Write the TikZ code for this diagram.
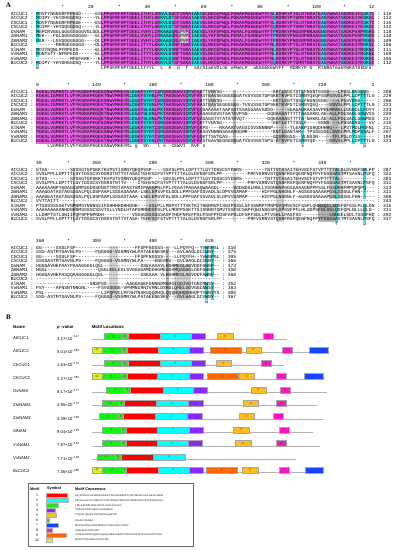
\documentclass[tikz,border=0pt]{standalone}
\usepackage{fontspec}
\setmainfont{Liberation Serif}
\setsansfont{Liberation Sans}
\setmonofont{Liberation Mono}
\definecolor{amg}{RGB}{232,96,232}
\definecolor{acy}{RGB}{40,225,225}
\definecolor{agr}{RGB}{180,180,180}
\definecolor{agl}{RGB}{212,212,212}
\definecolor{mred}{RGB}{255,0,0}
\definecolor{mcyan}{RGB}{0,255,255}
\definecolor{mgreen}{RGB}{20,240,20}
\definecolor{mpurple}{RGB}{140,40,255}
\definecolor{mgold}{RGB}{255,190,30}
\definecolor{mgreenb}{RGB}{60,215,60}
\definecolor{mblue}{RGB}{20,70,255}
\definecolor{mpink}{RGB}{255,20,200}
\definecolor{morange}{RGB}{255,102,0}
\definecolor{mlime}{RGB}{215,240,30}
\newcommand\seqVA{LPPGFRFHPTDEELITHYLSRKVLDGCFSSRAIAEVDLNKCEPWQLPGRAKMGEKEWYFFSLRDRKYPTGLRTNRATEAGYWKATGKDREIFSSKTC}
\newcommand\seqVB{LPPGFRFHPTDEELITHYLHKKVLDTSFSAKAIAEVDLNKCEPWELPGKAKMGEKEWYFFCQRDRKYPTGMRTNRATEAGYWKATGKDKEIYKGKGC}
\newcommand\seqVC{LPPGFRFHPTDEELVVHYLCRKAAGQRLPVPIIAEVDLYKFDPWDLPERALFGAREWYFFTPRDRKYPNGSRPNRAAGNGYWKATGADKPVAPRGRG}
\newcommand\seqVD{LPPGFRFHPTDEELITYYLKKKVLDSNFTGRAIAEVDLNKCEPWDLPEKAKMGEKEWYFFNLRDRKYPTGLRTNRATEAGYWKATGKDKEIYRGKNC}
\newcommand\seqCA{RGKSLVGMKKTLVFYKGRAPKGEKSNWVMHEYRLEGKFSYHYISRSSKDEWVISRVFQ}
\newcommand\seqCB{KGKALIGMKKTLVFYKGRAPKGEKTNWVMHEYRLDGKFSYHNLPKTAKDEWVVCRVFH}
\newcommand\seqCC{SGKALVGMKKTLVFYRGRAPKGQKTNWVMHEYRLEGAYSLHNLPKTAKNEWVICRVFQ}
\newcommand\hlrect[6]{\fill[#6] ({36+(#2-1)*2.82},{11.75+78*(#1)+4.5*(#4-1)}) rectangle ({36+(#3)*2.82},{16.25+78*(#1)+4.5*(#5-1)});}
\newcommand\seqrow[6]{%
 \node[sq] (nm#1r#2) at (10.6,{14+78*(#1)+4.5*(#2-1)}) {#3};
 \node[sq] (sq#1r#2) at (36,{14+78*(#1)+4.5*(#2-1)}) {#4};
 \node[sq] (nb#1r#2) at (#6,{14+78*(#1)+4.5*(#2-1)}) {:~#5};}
\newcommand\rul[3]{\node[sq,anchor=center] (ru#1c#2) at ({36+(#2-0.5)*2.82},{7+78*(#1)}) {#3};}
\newcommand\cons[3]{\node[sq] (cs#1c#2) at ({36+(#2-1)*2.82},{68+78*(#1)}) {#3};}
\newcommand\mtf[5]{\node[mbx, fill=#4, minimum width={(#3-#2)*1pt}] (mt#1x#5) at ({(#2+#3)/2},{336.5+13.35*(#1)}) {#5};}
\newcommand\mline[3]{\coordinate (ls#1) at (#2,{339.1+13.35*(#1)}); \coordinate (le#1) at (#3,{339.1+13.35*(#1)}); \draw[bline] (ls#1) -- (le#1);}
\newcommand\prow[3]{\node[bname] (pn#1) at (13,{338+13.35*(#1)}) {#2}; \node[bname] (pv#1) at (57,{338+13.35*(#1)}) {#3};}
\newcommand\legrow[5]{%
 \node[lnum] (ln#1) at (37,{495.3+5*(#1-1)}) {#1};
 \node[lbar, fill=#2, minimum width={#3*1pt}] (lb#1) at ({46+#3/2},{495.3+5*(#1-1)}) {};
 \node[lcons] (lc#1) at (75,{495.3+5*(#1-1)}) {#4};}
\tikzset{
 sq/.style={font=\ttfamily\fontsize{4.7}{4.7}\selectfont, anchor=west, inner sep=0pt, text height=3.1pt, text depth=0.5pt},
 panel/.style={font=\bfseries\fontsize{7}{7}\selectfont, inner sep=0pt},
 mbx/.style={draw=black!35, line width=0.25pt, inner sep=0pt, minimum height=6pt, font=\sffamily\fontsize{2.8}{2.8}\selectfont, text=black!80},
 bline/.style={draw=black!30, line width=0.8pt},
 bname/.style={font=\sffamily\fontsize{4.2}{4.2}\selectfont, anchor=west, inner sep=0pt},
 bhead/.style={font=\sffamily\bfseries\fontsize{4.3}{4.3}\selectfont, anchor=west, inner sep=0pt},
 lhead/.style={font=\sffamily\bfseries\fontsize{3.8}{3.8}\selectfont, anchor=west, inner sep=0pt},
 lnum/.style={font=\sffamily\fontsize{3.5}{3.5}\selectfont, inner sep=0pt},
 lbar/.style={draw=black!30, line width=0.2pt, inner sep=0pt, minimum height=3.6pt},
 lcons/.style={font=\fontsize{2.55}{2.55}\selectfont, anchor=west, inner sep=0pt},
}
\begin{document}
\begin{tikzpicture}[x=1pt,y=-1pt]
\fill[white] (0,0) rectangle (398,550);
\useasboundingbox (0,0) rectangle (398,550);
% ---------------- panel A highlights
\hlrect{0}{1}{1}{1}{7}{acy}
\hlrect{0}{1}{1}{9}{10}{acy}
\hlrect{0}{1}{1}{12}{12}{acy}
\hlrect{0}{13}{14}{1}{4}{agl}
\hlrect{0}{24}{120}{1}{12}{amg}
\hlrect{0}{45}{47}{1}{12}{acy}
\hlrect{0}{48}{49}{2}{12}{acy}
\hlrect{0}{52}{54}{5}{7}{agl}
\hlrect{0}{56}{59}{1}{12}{acy}
\hlrect{0}{85}{85}{1}{12}{acy}
\hlrect{0}{102}{103}{1}{12}{acy}
\hlrect{0}{109}{109}{1}{12}{acy}
\hlrect{0}{117}{118}{1}{12}{acy}
\hlrect{1}{1}{59}{1}{12}{amg}
\hlrect{1}{34}{36}{1}{12}{acy}
\hlrect{1}{39}{42}{1}{12}{acy}
\hlrect{1}{45}{45}{1}{12}{acy}
\hlrect{1}{55}{55}{1}{12}{acy}
\hlrect{1}{62}{64}{1}{4}{agl}
\hlrect{1}{71}{71}{1}{12}{agr}
\hlrect{1}{86}{89}{1}{12}{agl}
\hlrect{1}{88}{88}{1}{12}{agr}
\hlrect{1}{95}{95}{1}{12}{acy}
\hlrect{1}{104}{110}{1}{12}{agl}
\hlrect{1}{106}{107}{3}{12}{agr}
\hlrect{1}{113}{113}{1}{12}{acy}
\hlrect{1}{116}{117}{1}{12}{acy}
\hlrect{2}{14}{14}{1}{12}{agr}
\hlrect{2}{40}{43}{5}{12}{agl}
\hlrect{2}{71}{71}{1}{12}{agl}
\hlrect{2}{86}{88}{1}{12}{agl}
\hlrect{2}{105}{109}{1}{7}{agl}
\hlrect{2}{101}{106}{9}{12}{agr}
\hlrect{2}{107}{107}{1}{7}{acy}
\hlrect{2}{107}{107}{9}{12}{acy}
\hlrect{2}{117}{117}{1}{7}{acy}
\hlrect{2}{117}{117}{9}{12}{acy}
\hlrect{3}{27}{29}{1}{12}{agl}
\hlrect{3}{47}{47}{1}{12}{agr}
\hlrect{3}{50}{55}{5}{12}{agl}
\hlrect{3}{61}{61}{1}{7}{acy}
\hlrect{3}{61}{61}{9}{12}{acy}
\hlrect{3}{63}{63}{1}{7}{acy}
\hlrect{3}{63}{63}{9}{12}{acy}
% ---------------- panel A labels
\node[panel] (lblA) at (8.5,5) {A};
\node[panel] (lblB) at (8.5,317) {B};
% rulers
\rul{0}{10}{*}\rul{0}{20}{20}\rul{0}{30}{*}\rul{0}{40}{40}\rul{0}{50}{*}\rul{0}{60}{60}\rul{0}{70}{*}\rul{0}{80}{80}\rul{0}{90}{*}\rul{0}{100}{100}\rul{0}{110}{*}\rul{0}{119.5}{12}
\rul{1}{1}{0}\rul{1}{12}{*}\rul{1}{22}{140}\rul{1}{32}{*}\rul{1}{42}{160}\rul{1}{52}{*}\rul{1}{62}{180}\rul{1}{72}{*}\rul{1}{82}{200}\rul{1}{92}{*}\rul{1}{102}{220}\rul{1}{112}{*}\rul{1}{120}{2}
\rul{2}{1.5}{40}\rul{2}{12}{*}\rul{2}{22}{260}\rul{2}{32}{*}\rul{2}{42}{280}\rul{2}{52}{*}\rul{2}{62}{300}\rul{2}{72}{*}\rul{2}{82}{320}\rul{2}{92}{*}\rul{2}{102}{340}\rul{2}{112}{*}
\rul{3}{2}{360}\rul{3}{12}{*}\rul{3}{22}{380}\rul{3}{32}{*}\rul{3}{42}{400}\rul{3}{52}{*}\rul{3}{62}{420}
% block 1
\seqrow{0}{1}{AtCUC1~:}{MDVFYNGNGRFRPEDD-----ES\seqVA}{115}{377.2}
\seqrow{0}{2}{AtCUC2~:}{MDIPY-YHYDHGGDSQ-----YL\seqVB}{112}{377.2}
\seqrow{0}{3}{ChCUC1~:}{MDVFYNGNGRFRPEDE-----ES\seqVA}{115}{377.2}
\seqrow{0}{4}{ChCUC2~:}{MDIPF-YHYDQGGDSQ-----YL\seqVB}{112}{377.2}
\seqrow{0}{5}{OsNAM~~:}{MEPCRVGGLGGGGGGGGVGLGDL\seqVC}{118}{377.2}
\seqrow{0}{6}{ZmNAM1~:}{MEK---FGLGGGGGGGGG---EL\seqVC}{110}{377.2}
\seqrow{0}{7}{ZmNAM2~:}{MER---LGVGGGGGGGG----DL\seqVC}{109}{377.2}
\seqrow{0}{8}{BcCUC2~:}{-------MKRGEGGGGS----DL\seqVD}{106}{377.2}
\seqrow{0}{9}{SlNAM~~:}{MDITNQNLPFRPEDD------EL\seqVD}{111}{377.2}
\seqrow{0}{10}{VvNAM1~:}{MDNYSTT-NFRPEDD------EL\seqVD}{109}{377.2}
\seqrow{0}{11}{VvNAM2~:}{------------MFEFKRK---E\seqVD}{105}{377.2}
\seqrow{0}{12}{BcCUC2~:}{MDIPY-YHYDHGGDSQ-----YL\seqVB}{112}{377.2}
\cons{0}{1}{m}
\cons{0}{24}{LPPGFRFHPTDEELITYYL~~L~~K~~d~~f~~sArAIaEVDLnK~ePWeLP~~aKmGEKEWYFF~~RDRKYP~G~~RtNRATeaGYWKATGkDre~}
% block 2
\seqrow{1}{1}{AtCUC1~:}{\seqCA KTTVNVSG--{}----------{}------KKTL{}EGSTSTLFNS{}NTSSGS---L{}PSSLENSSVS{}--}{208}{377.2}
\seqrow{1}{2}{AtCUC2~:}{\seqCB ASTGAVSEGG{}GGGGATVSVS{}SGTGPSKKTK{}VPSTISRNYQ{}EQPSSPSSVS{}LPPLLDPTTT{}LG}{229}{377.2}
\seqrow{1}{3}{ChCUC1~:}{\seqCA KTTVNVSG--{}----------{}------KKTL{}EGTTSSLFNS{}NSSGG----L{}PSSVENS---{}--}{206}{377.2}
\seqrow{1}{4}{ChCUC2~:}{\seqCB ASTGAVSEGG{}GGGG-TVSVS{}SGTGPSKKTK{}VPSTISRNYQ{}EQ----SSVS{}LPPLLDPTTT{}LG}{223}{377.2}
\seqrow{1}{5}{OsNAM~~:}{\seqCC QSAAAAKTAA{}PSSTSSAGGA{}AVADDG----{}-SGAGAGKAA{}SAVPDLMPAG{}LLGGEDLLFD{}YY}{233}{377.2}
\seqrow{1}{6}{ZmNAM1~:}{\seqCC ASASGSVGTA{}ATAVPSN---{}----GQDAAA{}ATTTTTAASA{}KKLAE-ALLP{}DLSADLGSWV{}SS}{220}{377.2}
\seqrow{1}{7}{ZmNAM2~:}{\seqCC ASAGGTVTAT{}ATAVQT----{}----GQEAAA{}ASTTTTA-NA{}KKLAE-ALLP{}DLSADLGSWM{}SS}{217}{377.2}
\seqrow{1}{8}{BcCUC2~:}{\seqCA KTTVNVSG--{}----------{}------KKTL{}ETTTSSLF--{}--SSNS---L{}PSSAENS---{}VV}{215}{377.2}
\seqrow{1}{9}{SlNAM~~:}{\seqCA KPS----NKA{}AATVAGSIGV{}SNNNNP----{}--TLEAKPIS{}HQDHHHQ---{}LPSTMDLPEF{}NL}{211}{377.2}
\seqrow{1}{10}{VvNAM1~:}{\seqCA KSSVNNNNSA{}AAAGGMR---{}------KNTL{}EANTAM--TP{}SSSSSCLSVD{}LPPLMDPSSA{}LF}{207}{377.2}
\seqrow{1}{11}{VvNAM2~:}{\seqCA QKTTSVTGAS{}----------{}------GQSP{}EGSS--VLNS{}SN-----TFL{}PSLDYSS---{}--}{199}{377.2}
\seqrow{1}{12}{BcCUC2~:}{\seqCB ASTGAVSEGG{}GGGGATVSVS{}SGTGPS-KTK{}VPSTISRNYQ{}E-----SSVS{}LPPLLDPTTT{}LG}{223}{377.2}
\cons{1}{1}{~~~~LvGMKKTLVFYKGRAPKGEKSNWVMHEYRL~g~~Sh~~~l~s~~CEWVI~~KVF~s}
\cons{1}{95}{s}\cons{1}{117}{p}
% block 3
\seqrow{2}{1}{AtCUC1~:}{GTAS------{}--SVSSGTGP{}SKKTKVPSTI{}SRNYQEQPSS{}P----SSVSL{}PPLLDPTTTL{}GYTDSSCSYD{}SRS-------{}-TNTTVTASA{}ITEHVSCFST{}VPTTTTALGL{}DVNSFSRLPP}{287}{377.2}
\seqrow{2}{2}{AtCUC2~:}{SVSLPPLLDP{}TTTLGYTDSS{}CSYDSRSTNT{}TVTASAITEH{}VSCFSTVPTT{}TTALGLDVNS{}FSRLPP----{}-----PRFVS{}RNVSTQSNFR{}SFQENFNQFP{}YFGSSSASTM{}TSAVNLPSFQ}{322}{377.2}
\seqrow{2}{3}{ChCUC1~:}{GTAS------{}--SVSSGTGP{}SKKTKVPSTV{}SRNYQEQPSS{}P----SSVSL{}PPLLDPTTTL{}GYTDSSCSYD{}SRS-------{}-TNTTVTASA{}ITEHVSCFST{}VPTTTTAL--{}----------}{283}{377.2}
\seqrow{2}{4}{ChCUC2~:}{SVSLPPLLDP{}TTTLGYTDSS{}CSYDSRSTNT{}TV----ITEH{}VSCFSTVPTT{}TTALGLDVNS{}FSRLPP----{}-----PRFVS{}RNVSTQSNFR{}SFQENFNQFP{}YFGSSSASTM{}TSAVNLPSFQ}{311}{377.2}
\seqrow{2}{5}{OsNAM~~:}{AAAAAANPYG{}DAGSSMPSGD{}SSDHSTTRST{}APASTSMIPA{}AAPNLFPLYE{}AATPADAAQW{}AAGDL-----{}DDDWDSLHNL{}LVSGNHNPGG{}SAAAAGNPPP{}SSLFGSDHHF{}MPQPQPQ---}{313}{377.2}
\seqrow{2}{6}{ZmNAM1~:}{AAAGDATAGT{}AGSSGALPQL{}DSPAAPLSSS{}ASAAAA-LSE{}LEPSVFGLDD{}LLPPFDAFSS{}VADLSLDPVV{}SAMAP-----{}HIFPGLNHDN{}LF-AGSGSGA{}AAAPGSLSSS{}GLFHN-----}{311}{377.2}
\seqrow{2}{7}{ZmNAM2~:}{AAAGEATAGT{}AGSSGALPQL{}DSPAAPLSSS{}ASTAAA-LSE{}LEPSVFGLDD{}LLPPFDAFSS{}VADLSLDPVV{}SAMAP-----{}HIFPGLNHDN{}LF-AGSGSGA{}AAAPGSLSSS{}GLFHN-----}{308}{377.2}
\seqrow{2}{8}{BcCUC2~:}{VVTTAITT--{}----------{}----------{}----------{}----------{}----------{}----------{}----------{}----------{}----------{}----------{}----------}{243}{377.2}
\seqrow{2}{9}{SlNAM~~:}{PTSSSSSSSK{}TVNMNMSYNN{}NSSIFDHHHH{}DHHDHH----{}SSLPLLMDPS{}TTTVKTKITN{}NNMVPISNIP{}SSSLSFSSNM{}PTMNPSVQMS{}VSCFSSPLQH{}NSQILSDGFD{}FSSLPLQLDN}{315}{377.2}
\seqrow{2}{10}{VvNAM1~:}{AAAAAAAAAN{}HDNHNMSSSS{}CSSVTSLLYN{}DLHTAPSMNN{}DSFSLPLLMD{}PPSSKTTSIS{}NNNTSMVTSS{}FSCSAPFQHI{}NSGSPLDPGS{}FPFLHLSDPS{}FDLSSLQDFQ{}PLNLLLQLG-}{311}{377.2}
\seqrow{2}{11}{VvNAM2~:}{LLDHPTSTLS{}NIIPQPSPPN{}PNDH------{}----VSGGGS{}SSSSSASPYH{}DFNFEFPSLP{}SSFPFDSFAP{}SLDFSPFSDL{}LPTVSHLLPA{}SFSS------{}----LNNGEL{}SDLTSSSFHD}{292}{377.2}
\seqrow{2}{12}{BcCUC2~:}{SVSLPPLLDP{}TTTLGYTDSS{}CSYDSRSTNT{}TVTASA-TEH{}VSCFSTVPTT{}TTALGLDVNS{}FSRLPP----{}-----PRFVS{}RNVSTQSNFR{}SFQENFNQFP{}YFGSSSASTM{}TSAVNLPSFQ}{317}{377.2}
\cons{2}{107}{f}\cons{2}{117}{p}
% block 4
\seqrow{3}{1}{AtCUC1~:}{GG-----SSS{}LFSP------{}----------{}-----FFSPF{}NGSSS----L{}LPQYFQ--{}YVWNPSL}{310}{222}
\seqrow{3}{2}{AtCUC2~:}{SSS-ASTMTS{}AVNLPS----{}-FQGGGG-VS{}GMNYWLPATA{}EENESKV---{}GVLHAGLD{}CIWNY--}{375}{222}
\seqrow{3}{3}{ChCUC1~:}{GG-----SSS{}LFSP------{}----------{}-----FFSPF{}NGSSS----L{}LPQYFH--{}YVWNPGL}{305}{222}
\seqrow{3}{4}{ChCUC2~:}{SSSSASTMTS{}AVNLPS----{}-FQGGGG-VS{}GMNYWLPA--{}--ENESKV--{}GVLHAGLD{}CIWNY--}{366}{222}
\seqrow{3}{5}{OsNAM~~:}{HGGGAVHEPA{}AYPAAAGGGG{}LQGL------{}-------GSE{}AAAAVLHGHM{}EGLAGVDD{}FAWNP--}{373}{222}
\seqrow{3}{6}{ZmNAM1~:}{HGGL------{}----------{}--QGGLEELE{}GLSVGGGGAM{}DGHGMEGDAM{}QAGGGLDG{}FGWNP--}{350}{222}
\seqrow{3}{7}{ZmNAM2~:}{HGGGAVHEPA{}SQQAAGGGGG{}LQGL------{}-------GSE{}AAA-VLHGHM{}EGLAGVDD{}FAWNF--}{368}{222}
\seqrow{3}{8}{BcCUC2~:}{----------{}----------{}----------{}----------{}----------{}----------{}-----}{-}{222}
\seqrow{3}{9}{SlNAM~~:}{----------{}---------S{}NSPSS-----{}--AAGGAGEF{}DNNNDMGHGI{}QGIVGTGN{}CMWSY--}{352}{222}
\seqrow{3}{10}{VvNAM1~:}{PSY----AFN{}SNTNNGNL--{}--FSVGSGGG{}-VPHMNIRNT{}VMNLDSHGLQ{}HELGGVGG{}CNWSY--}{363}{222}
\seqrow{3}{11}{VvNAM2~:}{PSL-------{}----------{}---LIPQPVC{}LPFSHTNSKG{}QQDHQLQQQH{}QHQDHHQP{}YYWNYYS}{305}{222}
\seqrow{3}{12}{BcCUC2~:}{SSS-ASTMTS{}AVNLPS----{}-FQGGGG-VS{}GMNYWLPATA{}EENESKV---{}GVLHAGLD{}CVWNY--}{367}{222}
\cons{3}{61}{w}
% ---------------- panel B
\node[bhead] (hName) at (13,327.3) {Name};
\node[bhead] (hPval) at (57,327.3) {\textit{p} -value};
\node[bhead] (hLoc) at (91.7,327.3) {Motif Locations};
\prow{0}{AtCUC1}{3.27×10\textsuperscript{−117}}
\prow{1}{AtCUC2}{5.01×10\textsuperscript{−263}}
\prow{2}{ChCUC1}{1.63×10\textsuperscript{−174}}
\prow{3}{ChCUC2}{2.27×10\textsuperscript{−262}}
\prow{4}{OsNAM}{8.17×10\textsuperscript{−177}}
\prow{5}{ZmNAM1}{4.95×10\textsuperscript{−176}}
\prow{6}{ZmNAM2}{3.39×10\textsuperscript{−168}}
\prow{7}{SlNAM}{9.04×10\textsuperscript{−165}}
\prow{8}{VvNAM1}{7.87×10\textsuperscript{−161}}
\prow{9}{VvNAM2}{7.71×10\textsuperscript{−139}}
\prow{10}{BcCUC2}{7.36×10\textsuperscript{−260}}
% lines
\mline{0}{92}{287}\mline{1}{92}{328}\mline{2}{92}{284}\mline{3}{92}{323}\mline{4}{92}{326.7}
\mline{5}{92}{316.7}\mline{6}{92}{323}\mline{7}{92}{313}\mline{8}{92}{320}\mline{9}{92}{296}\mline{10}{92}{323.3}
% boxes
\mtf{0}{104}{121.7}{mgreen}{3}\mtf{0}{121.7}{127.7}{mgreenb}{6}\mtf{0}{127.7}{160}{mred}{1}\mtf{0}{160}{191}{mcyan}{2}\mtf{0}{191}{205}{mpurple}{4}\mtf{0}{217}{232.7}{mgold}{5}\mtf{0}{263}{273}{mpink}{8}
\mtf{1}{92}{101.7}{mlime}{10}\mtf{1}{101.7}{122}{mgreen}{3}\mtf{1}{122}{127}{mgreenb}{6}\mtf{1}{127}{157.7}{mred}{1}\mtf{1}{157.7}{189}{mcyan}{2}\mtf{1}{189}{203.3}{mpurple}{4}\mtf{1}{210}{241}{morange}{9}\mtf{1}{246}{261}{mgold}{5}\mtf{1}{281.7}{291.7}{mpink}{8}\mtf{1}{309}{328}{mblue}{7}
\mtf{2}{104}{122}{mgreen}{3}\mtf{2}{122}{128}{mgreenb}{6}\mtf{2}{128}{160}{mred}{1}\mtf{2}{160}{191}{mcyan}{2}\mtf{2}{191}{205}{mpurple}{4}\mtf{2}{216}{231}{mgold}{5}\mtf{2}{261}{271}{mpink}{8}
\mtf{3}{92}{101.7}{mlime}{10}\mtf{3}{101.7}{121.7}{mgreen}{3}\mtf{3}{121.7}{126.7}{mgreenb}{6}\mtf{3}{126.7}{157}{mred}{1}\mtf{3}{157}{189}{mcyan}{2}\mtf{3}{189}{203}{mpurple}{4}\mtf{3}{206.7}{237.7}{morange}{9}\mtf{3}{239.3}{254.3}{mgold}{5}\mtf{3}{276}{286}{mpink}{8}\mtf{3}{304.3}{322.7}{mblue}{7}
\mtf{4}{106}{125}{mgreen}{3}\mtf{4}{125}{130}{mgreenb}{6}\mtf{4}{130}{163}{mred}{1}\mtf{4}{163}{193}{mcyan}{2}\mtf{4}{193}{207.3}{mpurple}{4}\mtf{4}{250.7}{265.7}{mgold}{5}\mtf{4}{280}{290}{mpink}{8}
\mtf{5}{101.7}{119}{mgreen}{3}\mtf{5}{119}{124}{mgreenb}{6}\mtf{5}{124}{156}{mred}{1}\mtf{5}{156}{188}{mcyan}{2}\mtf{5}{188}{202.7}{mpurple}{4}\mtf{5}{243.3}{258.3}{mgold}{5}\mtf{5}{276}{286}{mpink}{8}
\mtf{6}{99.3}{118.3}{mgreen}{3}\mtf{6}{118.3}{123}{mgreenb}{6}\mtf{6}{123}{155}{mred}{1}\mtf{6}{155}{187}{mcyan}{2}\mtf{6}{187}{201.7}{mpurple}{4}\mtf{6}{238.7}{254}{mgold}{5}\mtf{6}{272.7}{282.7}{mpink}{8}
\mtf{7}{101.7}{121}{mgreen}{3}\mtf{7}{121}{125.7}{mgreenb}{6}\mtf{7}{125.7}{157}{mred}{1}\mtf{7}{157}{189}{mcyan}{2}\mtf{7}{189}{203}{mpurple}{4}\mtf{7}{233.3}{249}{mgold}{5}\mtf{7}{278.7}{288.7}{mpink}{8}
\mtf{8}{101.7}{121}{mgreen}{3}\mtf{8}{121}{125.7}{mgreenb}{6}\mtf{8}{125.7}{157}{mred}{1}\mtf{8}{157}{188}{mcyan}{2}\mtf{8}{188}{201.7}{mpurple}{4}\mtf{8}{235}{250.7}{mgold}{5}\mtf{8}{276}{286}{mpink}{8}
\mtf{9}{97.3}{115}{mgreen}{3}\mtf{9}{115}{121}{mgreenb}{6}\mtf{9}{121}{153}{mred}{1}\mtf{9}{153}{185}{mcyan}{2}
\mtf{10}{92.3}{101.7}{mlime}{10}\mtf{10}{101.7}{122.7}{mgreen}{3}\mtf{10}{122.7}{125.7}{mgreenb}{6}\mtf{10}{125.7}{157.7}{mred}{1}\mtf{10}{157.7}{189}{mcyan}{2}\mtf{10}{189}{203.3}{mpurple}{4}\mtf{10}{206}{237.3}{morange}{9}\mtf{10}{242.3}{257.7}{mgold}{5}\mtf{10}{279}{288.7}{mpink}{8}\mtf{10}{304.7}{323.3}{mblue}{7}
% ---------------- legend
\node[draw=black!60, line width=0.5pt, minimum width=165pt, minimum height=62.4pt, inner sep=0pt, anchor=north west] (legbox) at (28,483.3) {};
\node[lhead] (lhM) at (30,489) {Motif};
\node[lhead] (lhS) at (47,489) {Symbol};
\node[lhead] (lhC) at (75,489) {Motif Consensus};
\legrow{1}{mred}{21}{SKCEPWELPGKAKMGEKEWYFFSLRDRKYPTGSRTNRATEAGYWKATGKDR}{}
\legrow{2}{mcyan}{22}{KEIYRGKALVGMKKTLVFYKGRAPKGEKTNWVMHEYRLEGKFSYHNLPKSA}{}
\legrow{3}{mgreen}{12}{LPPGFRFHPTDEELITHYLLKKVLDGSFS}{}
\legrow{4}{mpurple}{9.5}{NDEWVICRVFQKSSGGKKTHISG}{}
\legrow{5}{mgold}{10}{YSQKPLQDQGFFSQFPQNQQQHYPP}{}
\legrow{6}{mgreenb}{3.5}{RAIAEVDLNKC}{}
\legrow{7}{mblue}{12}{MSYWLPPAAAAEEMNKVGFLHAGLDCVWNY}{}
\legrow{8}{mpink}{6.3}{ADSLPHLLDFNSLPN}{}
\legrow{9}{morange}{20.3}{YSSSSSSSFNPQQHHLQQQQQHHLSSSPNLLDPSSSSSTSSTTAAAATTTTSSSL}{}
\legrow{10}{mlime}{6}{MDIPYYHYDHGGDSQYLPPG}{}
\end{tikzpicture}
\end{document}
